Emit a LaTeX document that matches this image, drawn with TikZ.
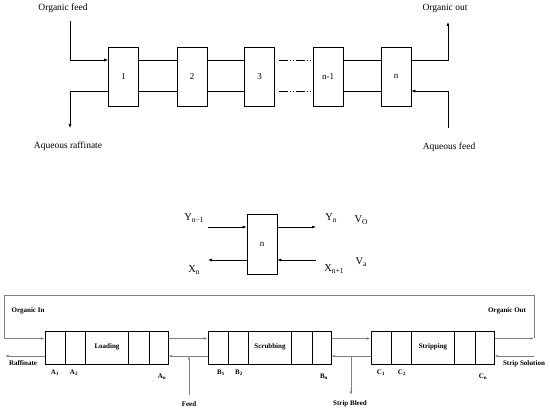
\documentclass[tikz,border=0pt]{standalone}
\usepackage{fontspec}
\setmainfont{Liberation Serif}
\usetikzlibrary{arrows.meta}
\newcommand{\sbs}[1]{\raisebox{-0.25em}{\fontsize{7.5}{8}\selectfont #1}}
\begin{document}
\begin{tikzpicture}[x=1pt,y=-1pt,
  stage/.style={draw, line width=0.6pt, minimum width=30pt, minimum height=59pt, inner sep=0pt, font=\fontsize{9}{10}\selectfont},
  flow/.style={line width=0.6pt},
  arr/.style={flow,-{Latex[length=4pt,width=3pt]}},
  dd/.style={flow, dash pattern=on 9pt off 2pt on 1pt off 2pt on 1pt off 2pt},
  lbl/.style={font=\fontsize{9.5}{11}\selectfont, inner sep=0pt},
  mlbl/.style={font=\fontsize{10.5}{12}\selectfont, inner sep=0pt},
  gflow/.style={draw=black!50, line width=0.9pt},
  garr/.style={gflow,-{Latex[length=3.5pt,width=2.6pt]}},
  bank/.style={draw, line width=1pt, minimum width=123pt, minimum height=33pt, inner sep=0pt},
  blbl/.style={font=\bfseries\fontsize{7}{8}\selectfont, inner sep=0pt},
  sep/.style={line width=1pt}
]
\useasboundingbox (0,0) rectangle (550,411);

% ---------- top cascade ----------
\coordinate (u) at (0,60);
\coordinate (l) at (0,91);
\node[stage] (b1) at (123.5,76.5) {1};
\node[stage] (b2) at (192,76.5) {2};
\node[stage] (b3) at (259.5,76.5) {3};
\node[stage] (bm) at (328,76.5) {n-1};
\node[stage] (bn) at (396,76.5) {n};

\draw[flow] (b1.east|-u) -- (b2.west|-u);
\draw[flow] (b1.east|-l) -- (b2.west|-l);
\draw[flow] (b2.east|-u) -- (b3.west|-u);
\draw[flow] (b2.east|-l) -- (b3.west|-l);
\coordinate (d1) at (279,60); \coordinate (d2) at (311,60);
\coordinate (d3) at (279,91); \coordinate (d4) at (311,91);
\draw[dd] (d1) -- (d2);
\draw[dd] (d3) -- (d4);
\draw[flow] (bm.east|-u) -- (bn.west|-u);
\draw[flow] (bm.east|-l) -- (bn.west|-l);

\coordinate (of) at (70,21);
\coordinate (ar) at (70,128);
\coordinate (oo) at (448,22);
\coordinate (af) at (448,128);
\draw[arr] (of) |- (b1.west|-u);
\draw[arr] (b1.west|-l) -| (ar);
\draw[arr] (bn.east|-u) -| (oo);
\draw[arr] (af) |- (bn.east|-l);

\node[lbl] (tof) at (63,8) {Organic feed};
\node[lbl] (tar) at (68,146) {Aqueous raffinate};
\node[lbl] (too) at (445,8) {Organic out};
\node[lbl] (taf) at (449,147) {Aqueous feed};

% ---------- single stage ----------
\node[stage, minimum height=60pt] (mn) at (262,244) {n};
\coordinate (m1) at (208,227);
\coordinate (m2) at (316,227);
\coordinate (m3) at (208,260);
\coordinate (m4) at (316,260);
\draw[arr] (m1) -- (mn.west|-m1);
\draw[arr] (mn.east|-m2) -- (m2);
\draw[arr] (mn.west|-m3) -- (m3);
\draw[arr] (m4) -- (mn.east|-m4);
\node[mlbl] (ty1) at (194,218) {Y\sbs{n−1}};
\node[mlbl] (ty2) at (331,218) {Y\sbs{n}};
\node[mlbl] (tv1) at (361,220) {V\sbs{O}};
\node[mlbl] (tx1) at (194,270) {X\sbs{n}};
\node[mlbl] (tx2) at (334,269) {X\sbs{n+1}};
\node[mlbl] (tv2) at (361,262) {V\sbs{a}};

% ---------- three banks ----------
\node[bank] (A) at (106.5,348.5) {};
\node[bank] (B) at (269.5,348.5) {};
\node[bank] (C) at (432.5,348.5) {};
\foreach \bk in {A,B,C}{
  \foreach \o in {20.5,41,84,104.5}{
    \draw[sep] ([xshift=\o pt]\bk.north west) -- ([xshift=\o pt]\bk.south west);
  }
}
\node[blbl] (tl) at (107,347) {Loading};
\node[blbl] (ts) at (270,347) {Scrubbing};
\node[blbl] (tst) at (433,347) {Stripping};

\coordinate (gu) at (0,338.5);
\coordinate (gl) at (0,356);
\draw[garr] (A.east|-gu) -- (B.west|-gu);
\draw[garr] (B.west|-gl) -- (A.east|-gl);
\draw[garr] (B.east|-gu) -- (C.west|-gu);
\draw[garr] (C.west|-gl) -- (B.east|-gl);

\coordinate (ort) at (534,338.5);
\coordinate (tr) at (534,295);
\coordinate (tl) at (4,295);
\coordinate (bl) at (4,338.5);
\draw[garr] (C.east|-gu) -- (ort);
\draw[gflow] (ort) -- (tr) -- (tl) -- (bl);
\draw[garr] (bl) -- (A.west|-gu);

\coordinate (raf) at (5,356);
\draw[garr] (A.west|-gl) -- (raf);
\coordinate (ss) at (534,356);
\draw[garr] (ss) -- (C.east|-gl);
\coordinate (fd) at (189,395);
\draw[garr] (fd) -- (fd|-gl);
\coordinate (sb) at (351,395);
\draw[garr] (sb|-gl) -- (sb);

\node[blbl] (toi) at (28,311) {Organic In};
\node[blbl] (too2) at (507,311) {Organic Out};
\node[blbl] (traf) at (23,363.5) {Raffinate};
\node[blbl] (tss) at (524,363.5) {Strip Solution};
\node[blbl] (tfd) at (189,404) {Feed};
\node[blbl] (tsb) at (350,404) {Strip Bleed};

\node[blbl] (la1) at (55,373) {A\textsubscript{1}};
\node[blbl] (la2) at (74,373) {A\textsubscript{2}};
\node[blbl] (lan) at (162,377) {A\textsubscript{n}};
\node[blbl] (lb1) at (221,373) {B\textsubscript{1}};
\node[blbl] (lb2) at (239,373) {B\textsubscript{2}};
\node[blbl] (lbn) at (324,377) {B\textsubscript{n}};
\node[blbl] (lc1) at (381,373) {C\textsubscript{1}};
\node[blbl] (lc2) at (402,373) {C\textsubscript{2}};
\node[blbl] (lcn) at (483,377) {C\textsubscript{n}};
\end{tikzpicture}
\end{document}
